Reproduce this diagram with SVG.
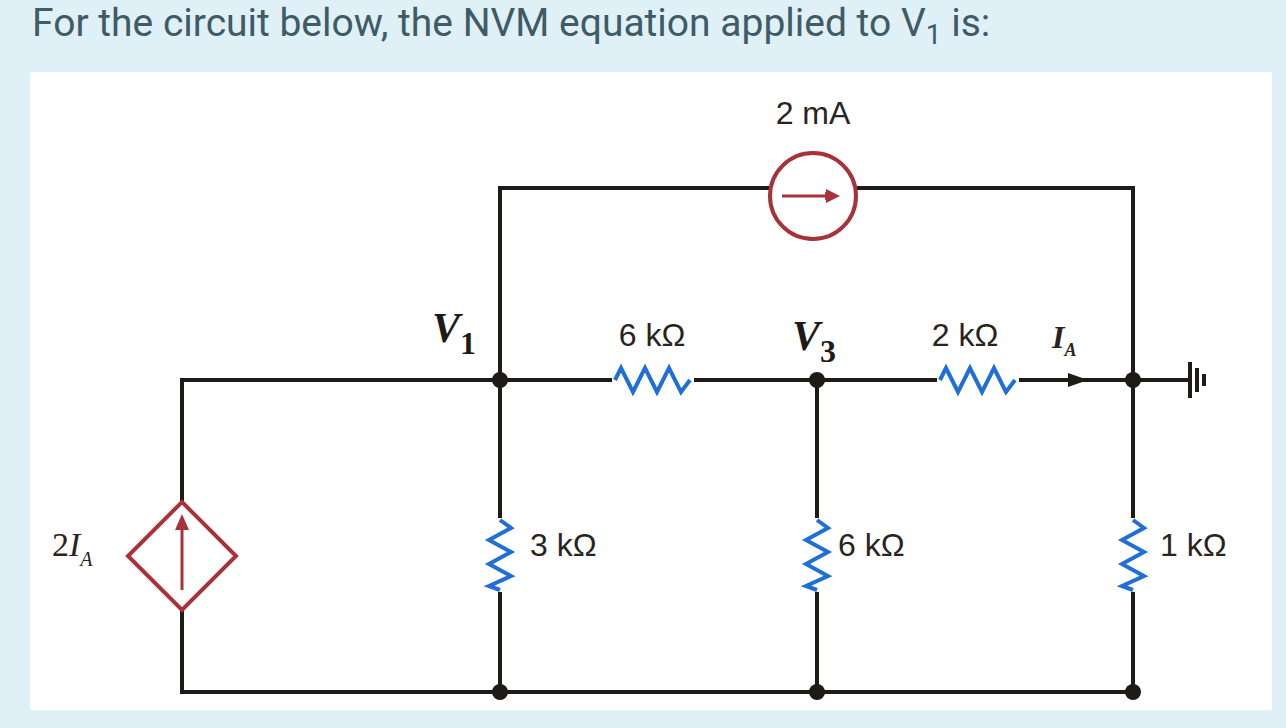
<svg xmlns="http://www.w3.org/2000/svg" width="1286" height="728" viewBox="0 0 1286 728">
<defs>
<style>
.w{stroke:#1e1a16;stroke-width:4;fill:none}
.r{stroke:#1f6fd6;stroke-width:4;fill:none;stroke-linejoin:miter}
.s{stroke:#a8323a;stroke-width:4;fill:#fff}
.lb{font-family:"Liberation Sans Narrow","Liberation Sans",sans-serif;font-size:32px;fill:#2a2420}
.v{font-family:"Liberation Serif",serif;font-weight:bold;font-style:italic;font-size:42px;fill:#1e1a16}
</style>
<marker id="ar" markerWidth="8" markerHeight="8" refX="7" refY="4" orient="auto" markerUnits="userSpaceOnUse" viewBox="0 0 8 8"><path d="M0,0L8,4L0,8z" fill="#a8323a"/></marker>
<marker id="ab" markerWidth="20" markerHeight="14" refX="20" refY="7" orient="auto" markerUnits="userSpaceOnUse"><path d="M0,0L20,7L0,14z" fill="#1e1a16"/></marker>
</defs>
<rect width="1286" height="728" fill="#dff0f7"/>
<rect x="30" y="72" width="1242" height="638" fill="#fff"/>
<text x="32" y="36" font-family="Roboto,sans-serif" font-size="39" fill="#3e5b66">For the circuit below, the NVM equation applied to V<tspan font-size="28" dy="8">1</tspan><tspan dy="-8"> is:</tspan></text>
<g id="wires">
<path class="w" d="M500,380V188H1133V692H182V380H615M690,380H940M1015,380H1090M1080,380H1190"/>
<path class="w" d="M500,380V692M817,380V692"/>
<path class="w" d="M1070,380H1088" marker-end="url(#ab)"/>
<g fill="#1e1a16"><circle cx="500" cy="380" r="8"/><circle cx="817" cy="380" r="8"/><circle cx="1133" cy="380" r="8"/><circle cx="500" cy="692" r="8"/><circle cx="817" cy="692" r="8"/><circle cx="1133" cy="692" r="8"/></g>
</g>
<g id="ground"><path class="w" d="M1190,362V398M1197,368V392M1204,374V386" stroke-width="5"/></g>
<g id="R6k"><rect x="612" y="366" width="82" height="28" fill="#fff"/><path class="r" d="M615,380L621,368L633,392L645,368L657,392L669,368L681,392L690,380"/><text class="lb" x="652" y="346" text-anchor="middle">6 kΩ</text></g>
<g id="R2k"><rect x="937" y="366" width="82" height="28" fill="#fff"/><path class="r" d="M940,380L946,368L958,392L970,368L982,392L994,368L1006,392L1015,380"/><text class="lb" x="965" y="346" text-anchor="middle">2 kΩ</text></g>
<g id="R3k"><rect x="488" y="518" width="24" height="74" fill="#fff"/><path class="r" d="M500,520L511,528L489,540L511,552L489,564L511,576L489,586L500,590"/><text class="lb" x="530" y="556">3 kΩ</text></g>
<g id="R6kv"><rect x="805" y="518" width="24" height="74" fill="#fff"/><path class="r" d="M817,520L828,528L806,540L828,552L806,564L828,576L806,586L817,590"/><text class="lb" x="838" y="556">6 kΩ</text></g>
<g id="R1k"><rect x="1121" y="518" width="24" height="74" fill="#fff"/><path class="r" d="M1133,520L1144,528L1122,540L1144,552L1122,564L1144,576L1122,586L1133,590"/><text class="lb" x="1160" y="556">1 kΩ</text></g>
<g id="I2mA"><circle class="s" cx="813" cy="196" r="43"/><path d="M782,196H832" stroke="#a8323a" stroke-width="3" marker-end="url(#ar)"/><path d="M826,189L840,196L826,203z" fill="#a8323a"/><text class="lb" x="813" y="124" text-anchor="middle" font-size="36">2 mA</text></g>
<g id="dep"><path class="s" d="M182,502L236,556L182,610L128,556z"/><path d="M182,590V528" stroke="#a8323a" stroke-width="3"/><path d="M175,530L182,514L189,530z" fill="#a8323a"/><text x="52" y="556" font-family="Liberation Serif,serif" font-size="34" fill="#2a2420">2<tspan font-style="italic">I</tspan><tspan font-style="italic" font-size="20" dy="10">A</tspan></text></g>
<g id="labels">
<text class="v" x="432" y="342">V<tspan font-size="32" dy="12" font-style="normal">1</tspan></text>
<text class="v" x="792" y="350">V<tspan font-size="32" dy="12" font-style="normal">3</tspan></text>
<text x="1052" y="348" font-family="Liberation Serif,serif" font-style="italic" font-weight="bold" font-size="32" fill="#2a2420">I<tspan font-size="18" dy="8">A</tspan></text>
</g>
</svg>
